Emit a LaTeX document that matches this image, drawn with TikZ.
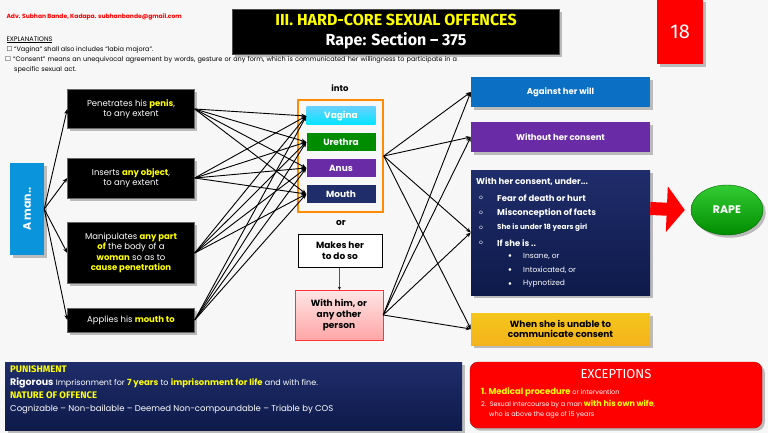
\documentclass[tikz,border=0pt]{standalone}
\usepackage{amssymb}
\usepackage{fontspec}
\setmainfont{Poppins}
\newfontfamily\condf{Fira Sans}
\usetikzlibrary{arrows.meta,shapes.geometric,shadows}
\definecolor{ylw}{HTML}{FFFF00}
\definecolor{navy}{HTML}{1F2D6B}
\definecolor{navyd}{HTML}{0E1A4A}
\definecolor{bluebox}{HTML}{0B6FC4}
\definecolor{purp}{HTML}{6A2BA6}
\definecolor{goldb}{HTML}{F2B820}
\begin{document}
\begin{tikzpicture}[x=1pt,y=-1pt,
  blk/.style={draw=black!60,fill=black,text=white,align=center,font=\fontsize{8.5}{10.5}\selectfont,drop shadow},
  part/.style={minimum width=69pt,minimum height=18pt,text=white,font=\bfseries\fontsize{9}{10}\selectfont,inner sep=0pt},
  rbox/.style={minimum width=179pt,text=white,font=\bfseries\fontsize{8.5}{10}\selectfont,inner sep=0pt,drop shadow},
  arr/.style={-{Stealth[length=5pt,width=4pt]},line width=0.9pt}]
\useasboundingbox (0,0) rectangle (768,433);
\fill[white!97!black] (0,0) rectangle (768,433);
% header
\node[anchor=west,text=red,font=\bfseries\fontsize{6}{7}\selectfont] (auth) at (3,17) {Adv. Subhan Bande, Kadapa. subhanbande@gmail.com};
\node[fill=black,draw=black!70,minimum width=327pt,minimum height=45pt,align=center,inner sep=0pt,drop shadow,font=\condf\bfseries\fontsize{16}{20}\selectfont] (title) at (396,32)
 {{\color{ylw}III. HARD-CORE SEXUAL OFFENCES}\\{\color{white}Rape: Section – 375}};
\node[fill=red,minimum width=46pt,minimum height=65pt,text=white,font=\condf\fontsize{20}{22}\selectfont,drop shadow] (num) at (680,32) {18};
\node[anchor=west,font=\fontsize{6.5}{7}\selectfont] (expl) at (3,40) {\underline{EXPLANATIONS}};
\node[anchor=west,font=\fontsize{6.5}{7}\selectfont] (e1) at (3,50) {$\square$ ``Vagina'' shall also includes ``labia majora''.};
\node[anchor=north west,font=\fontsize{6.5}{10.5}\selectfont,align=left,text width=660pt,inner sep=0pt] (e2) at (5,56) {$\square$ ``Consent'' means an unequivocal agreement by words, gesture or any form, which is communicated her willingness to participate in a\\\hspace*{9pt}specific sexual act.};
% A man
\node[fill=cyan!80!blue,minimum width=34pt,minimum height=92pt,drop shadow] (man) at (27,209) {};
\node[rotate=90,text=white,font=\bfseries\fontsize{11}{12}\selectfont] at (man) {A man..};
% left boxes
\node[blk,minimum width=127pt,minimum height=39pt] (p1) at (131,109) {Penetrates his {\color{ylw}\bfseries penis},\\to any extent};
\node[blk,minimum width=127pt,minimum height=40pt] (p2) at (131,178) {Inserts {\color{ylw}\bfseries any object},\\to any extent};
\node[blk,minimum width=127pt,minimum height=61pt,inner sep=1pt] (p3) at (131,253) {Manipulates {\color{ylw}\bfseries any part}\\{\color{ylw}\bfseries of} the body of a\\{\color{ylw}\bfseries woman} so as to\\{\color{ylw}\bfseries cause penetration}};
\node[blk,minimum width=127pt,minimum height=24pt] (p4) at (131,320) {Applies his {\color{ylw}\bfseries mouth to}};
\foreach \p in {p1,p2,p3,p4} \draw[arr] (man.east) -- (\p.west);
% body parts
\node[font=\bfseries\fontsize{8.5}{9}\selectfont] (into) at (340,88) {into};
\node[draw=orange!90!yellow,line width=1.5pt,minimum width=85pt,minimum height=112pt] (frame) at (340.5,156) {};
\node[part,top color=cyan!70!blue!60,bottom color=cyan!90!blue] (v) at (341,116) {Vagina};
\node[part,fill=green!55!black] (u) at (341,142) {Urethra};
\node[part,fill=purp] (a) at (341,168) {Anus};
\node[part,fill=navy] (m) at (341,194) {Mouth};
\foreach \p in {p1,p2,p3,p4} \foreach \q in {v,u,a,m} \draw[arr] (\p.east) -- (\q.west);
\node[font=\bfseries\fontsize{9}{10}\selectfont] (or) at (341,223) {or};
\node[draw=black,line width=1pt,fill=white,minimum width=84pt,minimum height=33pt,align=center,font=\bfseries\fontsize{9}{10.5}\selectfont,inner sep=0pt] (mk) at (340,250.5) {Makes her\\to do so};
\node[draw=red!80,top color=red!10,bottom color=red!35,minimum width=88pt,minimum height=50pt,align=center,font=\bfseries\fontsize{9}{11}\selectfont,inner sep=0pt] (wh) at (339,315) {With him, or\\any other\\person};
\draw[-{Stealth[length=3pt,width=3pt]},line width=0.5pt] (mk) -- (wh);
\coordinate (s1) at (frame.east);
\coordinate (s2) at (wh.east);
% right boxes
\node[rbox,fill=bluebox,minimum height=30pt] (r1) at (560.5,92) {Against her will};
\node[rbox,fill=purp,minimum height=30pt] (r2) at (560.5,137) {Without her consent};
\node[rbox,top color=navy,bottom color=navyd,minimum height=125pt] (r3) at (560.5,232.5) {};
\node[anchor=north west,text=white,font=\bfseries\fontsize{8.5}{10}\selectfont,align=left,inner sep=0pt] (r3t) at (476,177) {With her consent, under...};
\foreach \y/\t/\s in {198/Fear of death or hurt/8.5,213/Misconception of facts/8.5,228/She is under 18 years girl/7.2,243/If she is ../8.5}{
  \node[text=white,font=\fontsize{6}{7}\selectfont] at (481,\y) {o};
  \node[anchor=west,text=white,font=\bfseries\fontsize{\s}{10}\selectfont,inner sep=0pt] at (497,\y) {\t};}
\foreach \y/\t in {256/{Insane, or},270/{Intoxicated, or},284/Hypnotized}{
  \node[text=white,font=\fontsize{6}{7}\selectfont] at (510,\y) {$\bullet$};
  \node[anchor=west,text=white,font=\fontsize{7.5}{9}\selectfont,inner sep=0pt] at (523,\y) {\t};}
\node[rbox,top color=goldb!80!yellow,bottom color=goldb!90!orange,text=black,minimum height=32pt,align=center,font=\bfseries\fontsize{9}{10.5}\selectfont] (r4) at (560.5,329) {When she is unable to\\communicate consent};
\foreach \r in {r1,r2,r3,r4} {\draw[arr] (s1) -- (\r.west); \draw[arr] (s2) -- (\r.west);}
% rape
\node[ellipse,top color=green!75!black!80,bottom color=green!55!black,draw=green!40!black,minimum width=72pt,minimum height=50pt,text=white,font=\bfseries\fontsize{11}{12}\selectfont,drop shadow] (rape) at (727,210) {RAPE};
\draw[-{Triangle[length=18pt,width=45pt]},red,line width=13pt] ([yshift=24pt]r3.east) -- ([xshift=-6pt]rape.west);
% bottom
\node[top color=navy,bottom color=navyd,minimum width=457pt,minimum height=68pt,drop shadow] (pun) at (233.5,396) {};
\node[anchor=north west,text=white,align=left,inner sep=0pt,font=\fontsize{8.5}{13}\selectfont] (punt) at (10,366)
 {{\color{ylw}\condf\bfseries\fontsize{9.5}{10}\selectfont PUNISHMENT}\\
  {\bfseries\fontsize{9.5}{10}\selectfont Rigorous} {\fontsize{8}{9}\selectfont Imprisonment for} {\color{ylw}\bfseries 7 years} {\fontsize{8}{9}\selectfont to} {\color{ylw}\bfseries imprisonment for life} {\fontsize{8}{9}\selectfont and with fine.}\\
  {\color{ylw}\condf\bfseries\fontsize{9.5}{10}\selectfont NATURE OF OFFENCE}\\
  Cognizable – Non-bailable – Deemed Non-compoundable – Triable by COS};
\node[fill=red,rounded corners=8pt,draw=red!70!black,minimum width=292pt,minimum height=66pt,drop shadow] (exc) at (616,395) {};
\node[text=white,font=\condf\fontsize{13}{14}\selectfont] (exct) at (616,374) {EXCEPTIONS};
\node[anchor=west,text=white,inner sep=0pt,font=\fontsize{6.5}{7}\selectfont] (x1) at (481,392) {{\color{ylw}\bfseries\fontsize{8.5}{9}\selectfont 1.\ Medical procedure} or intervention};
\node[anchor=north west,text=white,inner sep=0pt,align=left,font=\fontsize{6.5}{10}\selectfont] (x2) at (481,400) {2.\ \ Sexual intercourse by a man {\color{ylw}\bfseries\fontsize{8}{9}\selectfont with his own wife},\\\hspace*{8pt}who is above the age of 15 years};
\end{tikzpicture}
\end{document}
